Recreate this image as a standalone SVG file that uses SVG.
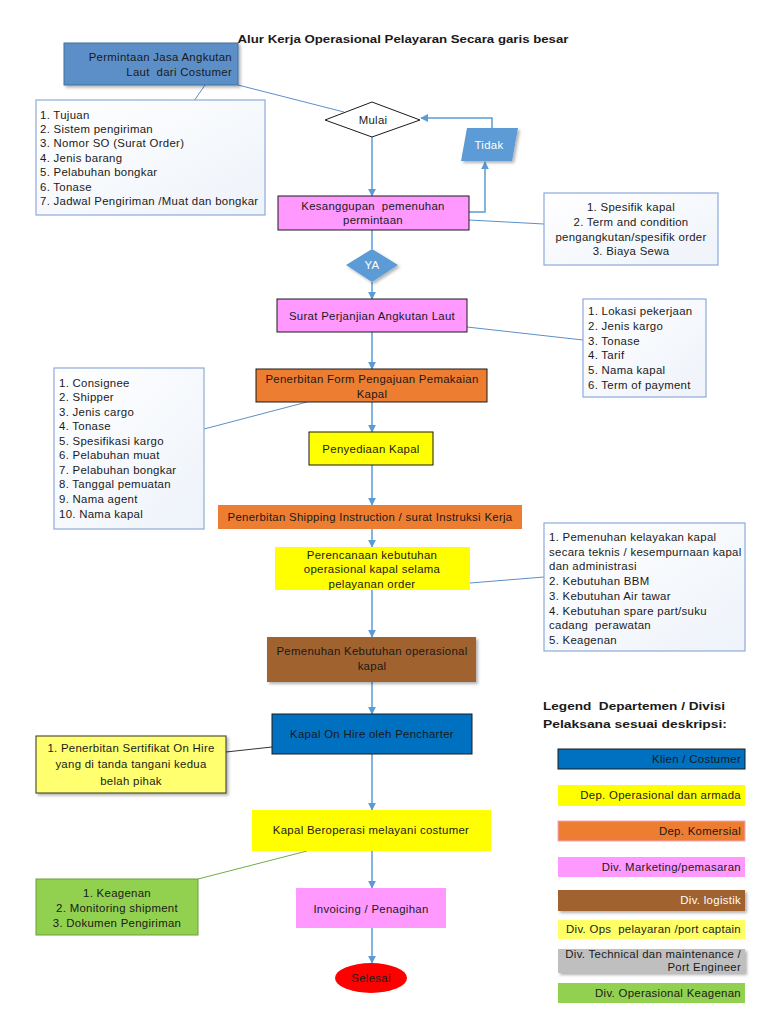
<svg xmlns="http://www.w3.org/2000/svg" width="768" height="1024" viewBox="0 0 768 1024">
<style>
text{font-family:"Liberation Sans",Arial,sans-serif;font-size:11.4px;letter-spacing:0.3px;fill:#1a1a1a}
.c{text-anchor:middle}
.r{text-anchor:end}
.w{fill:#ffffff}
.b{font-weight:bold;letter-spacing:0}
.flow{stroke:#5B9BD5;stroke-width:1.5;fill:none}
.ann{stroke:#5B8FC7;stroke-width:1;fill:none}
.list{stroke:#8EAADB;stroke-width:1.2}
.pink{fill:#FF99FF}
.yel{fill:#FFFF00}
.org{fill:#ED7D31}
.blk{stroke:#1a1a1a;stroke-width:1}
</style>
<defs>
<marker id="ah" viewBox="0 0 10 10" refX="9" refY="5" markerWidth="8" markerHeight="8" orient="auto" markerUnits="userSpaceOnUse">
<path d="M0,0 L10,5 L0,10 z" fill="#5B9BD5"/>
</marker>
<filter id="sh" x="-10%" y="-10%" width="130%" height="140%">
<feDropShadow dx="2" dy="2" stdDeviation="1.5" flood-color="#000" flood-opacity="0.3"/>
</filter>
<linearGradient id="lg" x1="0" y1="0" x2="1" y2="1">
<stop offset="0" stop-color="#ffffff"/>
<stop offset="1" stop-color="#EEF3FA"/>
</linearGradient>
</defs>
<rect width="768" height="1024" fill="#ffffff"/>

<text class="c b" x="403" y="43" font-size="14.5" textLength="331" lengthAdjust="spacingAndGlyphs">Alur Kerja Operasional Pelayaran Secara garis besar</text>

<g id="connectors">
<line class="ann" x1="205" y1="85" x2="194" y2="101"/>
<line class="ann" x1="238" y1="85" x2="344" y2="112"/>
<line class="flow" x1="372" y1="137" x2="372" y2="196" marker-end="url(#ah)"/>
<polyline class="flow" points="469,212 485,212 485,162" marker-end="url(#ah)"/>
<polyline class="flow" points="492,128 492,118 421,118" marker-end="url(#ah)"/>
<line class="ann" x1="469" y1="220" x2="544" y2="224"/>
<line class="flow" x1="372" y1="230" x2="372" y2="249"/>
<line class="flow" x1="372" y1="282" x2="372" y2="299" marker-end="url(#ah)"/>
<line class="ann" x1="467" y1="327" x2="583" y2="340"/>
<line class="flow" x1="372" y1="332" x2="372" y2="369" marker-end="url(#ah)"/>
<line class="ann" x1="307" y1="402" x2="204" y2="429"/>
<line class="flow" x1="372" y1="402" x2="372" y2="432" marker-end="url(#ah)"/>
<line class="flow" x1="372" y1="465" x2="372" y2="505" marker-end="url(#ah)"/>
<line class="flow" x1="372" y1="529" x2="372" y2="547" marker-end="url(#ah)"/>
<line class="ann" x1="470" y1="583" x2="544" y2="577"/>
<line class="flow" x1="372" y1="590" x2="372" y2="637" marker-end="url(#ah)"/>
<line class="flow" x1="372" y1="682" x2="372" y2="714" marker-end="url(#ah)"/>
<line x1="226" y1="752" x2="272" y2="747" stroke="#333" stroke-width="1"/>
<line class="flow" x1="372" y1="754" x2="372" y2="810" marker-end="url(#ah)"/>
<line x1="307" y1="851" x2="198" y2="879" stroke="#70AD47" stroke-width="1"/>
<line class="flow" x1="372" y1="851" x2="372" y2="888" marker-end="url(#ah)"/>
<line class="flow" x1="372" y1="928" x2="372" y2="963" marker-end="url(#ah)"/>
</g>

<g id="n-permintaan">
<rect x="64" y="43" width="174" height="42" fill="#5B8FC8" stroke="#41719C" stroke-width="1" filter="url(#sh)"/>
<text class="r" x="232" y="61" fill="#1F2A44">Permintaan Jasa Angkutan</text>
<text class="r" x="232" y="76" fill="#1F2A44" xml:space="preserve">Laut  dari Costumer</text>
</g>

<g id="n-list1">
<rect class="list" x="36" y="100" width="229" height="115" fill="url(#lg)"/>
<text x="40" y="119">1. Tujuan</text>
<text x="40" y="133">2. Sistem pengiriman</text>
<text x="40" y="147">3. Nomor SO (Surat Order)</text>
<text x="40" y="162">4. Jenis barang</text>
<text x="40" y="176">5. Pelabuhan bongkar</text>
<text x="40" y="191">6. Tonase</text>
<text x="40" y="205">7. Jadwal Pengiriman /Muat dan bongkar</text>
</g>

<g id="n-mulai">
<polygon points="325,120 372,102 420,120 372,137" fill="#ffffff" stroke="#1a1a1a" stroke-width="1"/>
<text class="c" x="373" y="124">Mulai</text>
</g>

<g id="n-tidak">
<polygon points="467,128 518,128 512,161 461,161" fill="#5B9BD5" filter="url(#sh)"/>
<text class="c w" x="489" y="149">Tidak</text>
</g>

<g id="n-kesanggupan">
<rect class="pink blk" x="278" y="196" width="191" height="34"/>
<text class="c" x="373" y="210" xml:space="preserve">Kesanggupan  pemenuhan</text>
<text class="c" x="373" y="224">permintaan</text>
</g>

<g id="n-list2">
<rect class="list" x="544" y="193" width="174" height="72" fill="url(#lg)"/>
<text class="c" x="631" y="211">1. Spesifik kapal</text>
<text class="c" x="631" y="226">2. Term and condition</text>
<text class="c" x="631" y="241">pengangkutan/spesifik order</text>
<text class="c" x="631" y="255">3. Biaya Sewa</text>
</g>

<g id="n-ya">
<polygon points="346,265 372,249 398,265 372,282" fill="#5B9BD5" filter="url(#sh)"/>
<text class="c w" x="372" y="269">YA</text>
</g>

<g id="n-surat">
<rect class="pink blk" x="277" y="299" width="190" height="33"/>
<text class="c" x="372" y="320">Surat Perjanjian Angkutan Laut</text>
</g>

<g id="n-list3">
<rect class="list" x="583" y="299" width="123" height="98" fill="url(#lg)"/>
<text x="588" y="315">1. Lokasi pekerjaan</text>
<text x="588" y="330">2. Jenis kargo</text>
<text x="588" y="345">3. Tonase</text>
<text x="588" y="359">4. Tarif</text>
<text x="588" y="374">5. Nama kapal</text>
<text x="588" y="389">6. Term of payment</text>
</g>

<g id="n-form">
<rect class="org blk" x="256" y="369" width="231" height="33"/>
<text class="c" x="372" y="383">Penerbitan Form Pengajuan Pemakaian</text>
<text class="c" x="372" y="398">Kapal</text>
</g>

<g id="n-list4">
<rect class="list" x="54" y="368" width="150" height="161" fill="url(#lg)"/>
<text x="59" y="387">1. Consignee</text>
<text x="59" y="401">2. Shipper</text>
<text x="59" y="416">3. Jenis cargo</text>
<text x="59" y="430">4. Tonase</text>
<text x="59" y="445">5. Spesifikasi kargo</text>
<text x="59" y="459">6. Pelabuhan muat</text>
<text x="59" y="474">7. Pelabuhan bongkar</text>
<text x="59" y="488">8. Tanggal pemuatan</text>
<text x="59" y="503">9. Nama agent</text>
<text x="59" y="518">10. Nama kapal</text>
</g>

<g id="n-penyediaan">
<rect class="yel blk" x="309" y="432" width="124" height="33"/>
<text class="c" x="371" y="453">Penyediaan Kapal</text>
</g>

<g id="n-shipping">
<rect class="org" x="218" y="505" width="304" height="24"/>
<text class="c" x="370" y="521">Penerbitan Shipping Instruction / surat Instruksi Kerja</text>
</g>

<g id="n-perencanaan">
<rect class="yel" x="275" y="547" width="195" height="43"/>
<text class="c" x="372" y="559">Perencanaan kebutuhan</text>
<text class="c" x="372" y="573">operasional kapal selama</text>
<text class="c" x="372" y="588">pelayanan order</text>
</g>

<g id="n-list5">
<rect class="list" x="544" y="523" width="201" height="128" fill="url(#lg)"/>
<text x="549" y="541">1. Pemenuhan kelayakan kapal</text>
<text x="549" y="556">secara teknis / kesempurnaan kapal</text>
<text x="549" y="570">dan administrasi</text>
<text x="549" y="585">2. Kebutuhan BBM</text>
<text x="549" y="600">3. Kebutuhan Air tawar</text>
<text x="549" y="615">4. Kebutuhan spare part/suku</text>
<text x="549" y="629" xml:space="preserve">cadang  perawatan</text>
<text x="549" y="644">5. Keagenan</text>
</g>

<g id="n-pemenuhan">
<rect x="267" y="637" width="209" height="45" fill="#A0622F" filter="url(#sh)"/>
<text class="c" x="372" y="655" fill="#F2F2F2">Pemenuhan Kebutuhan operasional</text>
<text class="c" x="372" y="670" fill="#F2F2F2">kapal</text>
</g>

<g id="n-onhire">
<rect x="272" y="714" width="200" height="40" fill="#0070C0" stroke="#1a1a1a" stroke-width="1"/>
<text class="c" x="372" y="738">Kapal On Hire oleh Pencharter</text>
</g>

<g id="n-sertifikat">
<rect x="36" y="736" width="190" height="57" fill="#FFFF70" stroke="#333" stroke-width="1" filter="url(#sh)"/>
<text class="c" x="131" y="752">1. Penerbitan Sertifikat On Hire</text>
<text class="c" x="131" y="768">yang di tanda tangani kedua</text>
<text class="c" x="131" y="785">belah pihak</text>
</g>

<g id="n-beroperasi">
<rect class="yel" x="252" y="810" width="239" height="41"/>
<text class="c" x="371" y="834">Kapal Beroperasi melayani costumer</text>
</g>

<g id="n-keagenan">
<rect x="36" y="879" width="162" height="56" fill="#92D050" stroke="#6A9E3A" stroke-width="1"/>
<text class="c" x="117" y="897">1. Keagenan</text>
<text class="c" x="117" y="912">2. Monitoring shipment</text>
<text class="c" x="117" y="927">3. Dokumen Pengiriman</text>
</g>

<g id="n-invoicing">
<rect class="pink" x="296" y="888" width="150" height="40"/>
<text class="c" x="371" y="913">Invoicing / Penagihan</text>
</g>

<g id="n-selesai">
<ellipse cx="371" cy="978" rx="36" ry="15" fill="#FF0000"/>
<text class="c" x="371" y="982" fill="#5a0000">Selesai</text>
</g>

<g id="legend">
<text class="b" x="543" y="710" font-size="14" textLength="182" lengthAdjust="spacingAndGlyphs" xml:space="preserve">Legend  Departemen / Divisi</text>
<text class="b" x="543" y="728" font-size="14" textLength="184" lengthAdjust="spacingAndGlyphs">Pelaksana sesuai deskripsi:</text>
<rect x="558" y="749" width="187" height="20" fill="#0070C0" stroke="#1a1a1a" stroke-width="1"/>
<text class="r" x="741" y="763">Klien / Costumer</text>
<rect x="558" y="785" width="187" height="21" fill="#FFFF00"/>
<text class="r" x="741" y="799">Dep. Operasional dan armada</text>
<rect x="558" y="821" width="187" height="20" fill="#ED7D31" stroke="#F4A6C6" stroke-width="1"/>
<text class="r" x="741" y="835">Dep. Komersial</text>
<rect x="558" y="857" width="187" height="20" fill="#FF99FF"/>
<text class="r" x="741" y="871">Div. Marketing/pemasaran</text>
<rect x="558" y="890" width="187" height="21" fill="#A0622F" filter="url(#sh)"/>
<text class="r w" x="741" y="904">Div. logistik</text>
<rect x="558" y="920" width="187" height="19" fill="#FFFF66"/>
<text class="r" x="741" y="933" xml:space="preserve">Div. Ops  pelayaran /port captain</text>
<rect x="558" y="949" width="187" height="24" fill="#BFBFBF" filter="url(#sh)"/>
<text class="r" x="741" y="958">Div. Technical dan maintenance /</text>
<text class="r" x="741" y="971">Port Engineer</text>
<rect x="558" y="983" width="187" height="20" fill="#92D050"/>
<text class="r" x="741" y="997">Div. Operasional Keagenan</text>
</g>
</svg>
